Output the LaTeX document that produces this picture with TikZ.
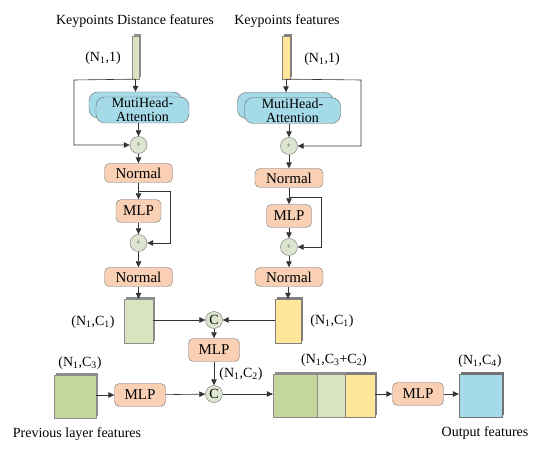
\documentclass[tikz,border=0pt]{standalone}
\usepackage{fontspec}
\setmainfont{Liberation Serif}
\usetikzlibrary{arrows.meta,shadows}
\definecolor{lgreen}{HTML}{D7E4BD}
\definecolor{dgreen}{HTML}{C3D69B}
\definecolor{lyellow}{HTML}{FFE699}
\definecolor{lblue}{HTML}{A5DAE8}
\definecolor{peach}{HTML}{F9D0B4}
\definecolor{sumfill}{HTML}{DDE5D0}
\tikzset{every node/.style={font=\fontsize{14}{14}\selectfont},
  box/.style={draw=black!55, fill=peach, rounded corners=5pt, minimum height=23pt, inner sep=2pt, font=\fontsize{15}{15}\selectfont},
  mha/.style={draw=black!60, fill=lblue, rounded corners=9pt, minimum width=93pt, minimum height=26pt, align=center, inner sep=0pt,
    font=\fontsize{14}{14}\selectfont,
    copy shadow={shadow xshift=-7pt, shadow yshift=5pt, fill=lblue, draw=black!60}},
  sum/.style={circle, draw=black!55, fill=sumfill, minimum size=17pt, inner sep=0pt},
  cube/.style 2 args={fill=#1, draw=#2, line width=0.3pt, inner sep=0pt,
    general shadow={fill=#2, shadow xshift=2pt, shadow yshift=2pt}},
  link/.style={draw=black!80, line width=0.6pt, -{Triangle[length=6pt,width=5.5pt]}}}

\begin{document}
\begin{tikzpicture}[x=1pt,y=-1pt]
       \useasboundingbox (0,0) rectangle (550,449);
       \begin{scope}
        \node (tL) at (135,21) {Keypoints Distance features};
        \node[cube={lgreen}{black!45}, minimum width=7pt, minimum height=43pt] (barL) at (135.5,57.5) {};
        \node (nL) at (103,58) {(N\textsubscript{1},1)};
        \node[mha] (mhaL) at (142.5,110) {MutiHead-\\Attention};
        \node[sum] (pL1) at (138.5,145) {\color{black!60}\fontsize{9}{9}\selectfont +};
        \node[box, minimum width=68pt, minimum height=19pt] (normL1) at (138.5,173) {Normal};
        \node[box, minimum width=45pt] (mlpL) at (138.5,211) {MLP};
        \node[sum] (pL2) at (138.5,243) {\color{black!60}\fontsize{9}{9}\selectfont +};
        \node[box, minimum width=68pt, minimum height=19pt] (normL2) at (138.5,277) {Normal};
        \node[cube={lgreen}{black!45}, minimum width=29pt, minimum height=44pt] (featL) at (138.5,321) {};
        \node (nLC) at (93,322) {(N\textsubscript{1},C\textsubscript{1})};
        \coordinate (fbL) at (74,80);
        \coordinate (skL) at (170,191);
        \draw[link] (barL.south) -- ([yshift=5pt]barL.south |- mhaL.north);
        \draw[link] (barL.south) -- (fbL) |- (pL1.west);
        \draw[link] (mhaL.south -| pL1) -- (pL1.north);
        \draw[link] (pL1) -- (normL1);
        \draw[link] (normL1) -- (mlpL);
        \draw[link] (normL1.south |- skL) -- (skL) |- (pL2.east);
        \draw[link] (mlpL) -- (pL2);
        \draw[link] (pL2) -- (normL2);
        \draw[link] (normL2) -- (featL);
       \end{scope}
       \begin{scope}
        \node (tR) at (287,21) {Keypoints features};
        \node[cube={lyellow}{black!50}, minimum width=8pt, minimum height=43pt] (barR) at (286,57.5) {};
        \node (nR) at (322,59) {(N\textsubscript{1},1)};
        \node[mha, minimum width=96pt] (mhaR) at (292.5,110.5) {MutiHead-\\Attention};
        \node[sum] (pR1) at (289,146) {\color{black!60}\fontsize{9}{9}\selectfont +};
        \node[box, minimum width=68pt, minimum height=19pt] (normR1) at (289,178) {Normal};
        \node[box, minimum width=45pt] (mlpR) at (289,216) {MLP};
        \node[sum] (pR2) at (289,247) {\color{black!60}\fontsize{9}{9}\selectfont +};
        \node[box, minimum width=68pt, minimum height=19pt] (normR2) at (289,277) {Normal};
        \node[cube={lyellow}{black!50}, minimum width=26pt, minimum height=44pt] (featR) at (288,321) {};
        \node (nRC) at (332,321) {(N\textsubscript{1},C\textsubscript{1})};
        \coordinate (fbR) at (361,80);
        \coordinate (skR) at (321,197);
        \draw[link] (barR.south) -- ([yshift=5pt]barR.south |- mhaR.north);
        \draw[link] (barR.south) -- (fbR) |- (pR1.east);
        \draw[link] (mhaR.south -| pR1) -- (pR1.north);
        \draw[link] (pR1) -- (normR1);
        \draw[link] (normR1) -- (mlpR);
        \draw[link] (mlpR.north |- skR) -- (skR) |- (pR2.east);
        \draw[link] (mlpR) -- (pR2);
        \draw[link] (pR2) -- (normR2);
        \draw[link] (normR2.south -| featR) -- (featR.north);
       \end{scope}
       \begin{scope}
        \node[sum] (catA) at (214,320) {C};
        \node[box, minimum width=51pt] (mlpM) at (214,350) {MLP};
        \node[sum] (catB) at (214,394) {C};
        \node (nC2) at (241,374) {(N\textsubscript{1},C\textsubscript{2})};
        \node[cube={dgreen}{black!45}, minimum width=42pt, minimum height=43pt] (prev) at (75,396.5) {};
        \node (nC3) at (80,363) {(N\textsubscript{1},C\textsubscript{3})};
        \node (tP) at (77,434) {Previous layer features};
        \node[box, minimum width=51pt] (mlpP) at (140,395) {MLP};
        \node[cube={dgreen}{black!45}, minimum width=44pt, minimum height=43pt] (jG) at (295,395.5) {};
        \node[cube={lgreen}{black!45}, minimum width=28pt, minimum height=43pt] (jL) at (331,395.5) {};
        \node[cube={lyellow}{black!50}, minimum width=30pt, minimum height=43pt] (jY) at (360,395.5) {};
        \node (nJ) at (334,360) {(N\textsubscript{1},C\textsubscript{3}+C\textsubscript{2})};
        \node[box, minimum width=51pt] (mlpO) at (418,394) {MLP};
        \node[cube={lblue}{black!55}, minimum width=43pt, minimum height=43pt] (out) at (480.5,395.5) {};
        \node (nC4) at (480,361) {(N\textsubscript{1},C\textsubscript{4})};
        \node (tO) at (485,433) {Output features};
        \draw[link] (featL.east |- catA) -- (catA.west);
        \draw[link] (featR.west |- catA) -- (catA.east);
        \draw[link] (catA) -- (mlpM);
        \draw[link] (mlpM) -- (catB);
        \draw[link] (prev.east |- mlpP) -- (mlpP.west);
        \draw[link] (mlpP) -- (catB);
        \draw[link] (catB.east) -- (jG.west |- catB);
        \draw[link] (jY.east |- mlpO) -- (mlpO.west);
        \draw[link] (mlpO.east) -- (out.west |- mlpO);
       \end{scope}
      \end{tikzpicture}
\end{document}
